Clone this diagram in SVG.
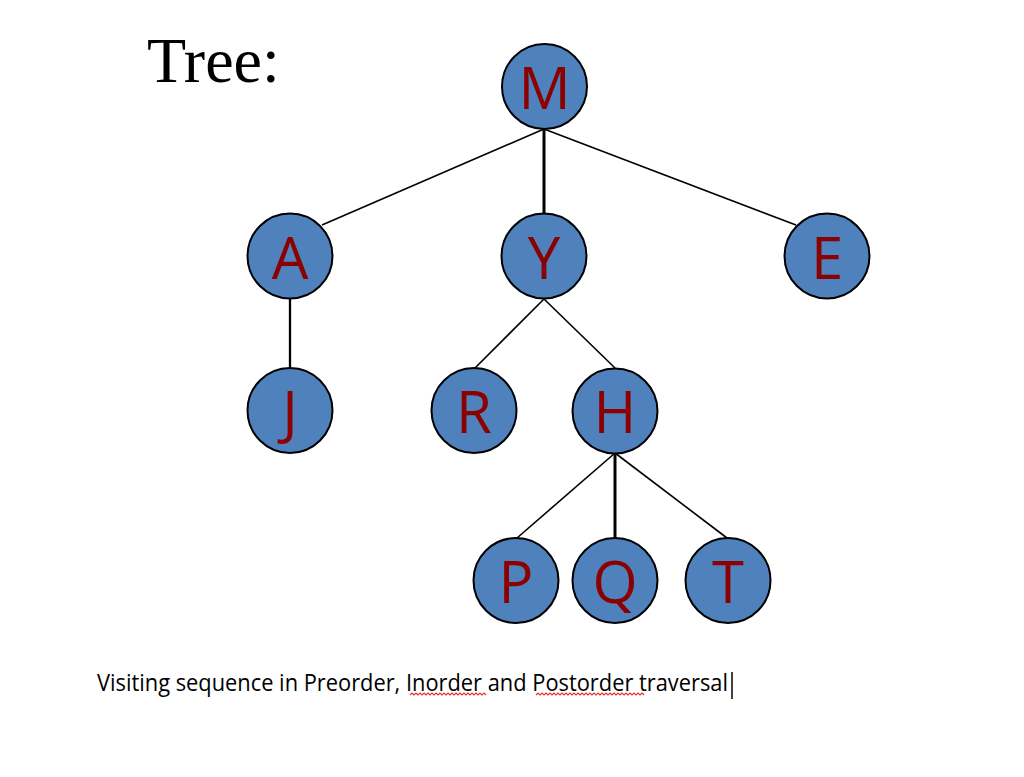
<svg xmlns="http://www.w3.org/2000/svg" width="1024" height="777" viewBox="0 0 1024 777">
<style>
.node circle{fill:#4F81BD;stroke:#000;stroke-width:2}
.node text{fill:#8B0000;font-family:"Open Sans","Noto Sans",sans-serif;font-size:58px;text-anchor:middle}
.edge{stroke:#000;stroke-width:1.6;fill:none}
.mid{stroke-width:2.3}
.thick{stroke-width:3}
.squig{stroke:#E03030;stroke-width:1.1;fill:none}
</style>
<rect width="1024" height="777" fill="#fff"/>
<text x="147" y="82" font-family="'Liberation Serif','Times New Roman',serif" font-size="64" fill="#000">Tree:</text>
<g id="connectors">
<line class="edge" x1="544" y1="129" x2="322" y2="225"/>
<line class="edge thick" x1="544" y1="129" x2="544" y2="214"/>
<line class="edge" x1="544" y1="129" x2="796" y2="225"/>
<line class="edge mid" x1="290" y1="299" x2="290" y2="368"/>
<line class="edge" x1="544" y1="299" x2="475" y2="368"/>
<line class="edge" x1="544" y1="299" x2="615" y2="368"/>
<line class="edge" x1="615" y1="453" x2="517" y2="538"/>
<line class="edge thick" x1="615" y1="453" x2="615" y2="538"/>
<line class="edge" x1="615" y1="453" x2="727" y2="538"/>
</g>
<g id="node-M" class="node"><circle cx="544.5" cy="86.5" r="42.5"/><text x="544.5" y="109">M</text></g>
<g id="node-A" class="node"><circle cx="290" cy="256" r="42.5"/><text x="290" y="279">A</text></g>
<g id="node-Y" class="node"><circle cx="544" cy="256" r="42.5"/><text x="544" y="279">Y</text></g>
<g id="node-E" class="node"><circle cx="827" cy="256" r="42.5"/><text x="827" y="279">E</text></g>
<g id="node-J" class="node"><circle cx="290" cy="410.5" r="42.5"/><text x="290" y="433">J</text></g>
<g id="node-R" class="node"><circle cx="474" cy="410.5" r="42.5"/><text x="474" y="433">R</text></g>
<g id="node-H" class="node"><circle cx="615" cy="411" r="42.5"/><text x="615" y="433">H</text></g>
<g id="node-P" class="node"><circle cx="516" cy="580.5" r="42.5"/><text x="516" y="603">P</text></g>
<g id="node-Q" class="node"><circle cx="615" cy="580.5" r="42.5"/><text x="615" y="603">Q</text></g>
<g id="node-T" class="node"><circle cx="728" cy="580.5" r="42.5"/><text x="728" y="603">T</text></g>
<text x="97" y="691" font-family="'Open Sans','Noto Sans',sans-serif" font-size="23" fill="#000" textLength="631" lengthAdjust="spacingAndGlyphs">Visiting sequence in Preorder, Inorder and Postorder traversal</text>
<path class="squig" d="M410 695 l2 -2 l2 2 l2 -2 l2 2 l2 -2 l2 2 l2 -2 l2 2 l2 -2 l2 2 l2 -2 l2 2 l2 -2 l2 2 l2 -2 l2 2 l2 -2 l2 2 l2 -2 l2 2 l2 -2 l2 2 l2 -2 l2 2 l2 -2 l2 2 l2 -2 l2 2 l2 -2 l2 2 l2 -2 l2 2 l2 -2 l2 2 l2 -2 l2 2 l2 -2 l2 2"/>
<path class="squig" d="M536 695 l2 -2 l2 2 l2 -2 l2 2 l2 -2 l2 2 l2 -2 l2 2 l2 -2 l2 2 l2 -2 l2 2 l2 -2 l2 2 l2 -2 l2 2 l2 -2 l2 2 l2 -2 l2 2 l2 -2 l2 2 l2 -2 l2 2 l2 -2 l2 2 l2 -2 l2 2 l2 -2 l2 2 l2 -2 l2 2 l2 -2 l2 2 l2 -2 l2 2 l2 -2 l2 2 l2 -2 l2 2 l2 -2 l2 2 l2 -2 l2 2 l2 -2 l2 2 l2 -2 l2 2 l2 -2 l2 2 l2 -2 l2 2 l2 -2 l2 2"/>
<line x1="732" y1="672" x2="732" y2="699" stroke="#000" stroke-width="1.5"/>
</svg>
